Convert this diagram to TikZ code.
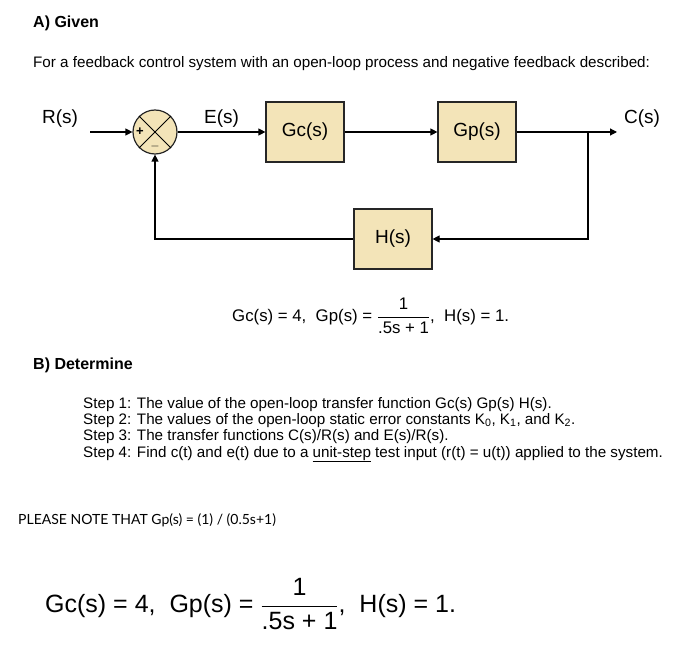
\documentclass[tikz,border=0pt]{standalone}
\usepackage{fontspec}
\setmainfont{Liberation Sans}
\newfontfamily\plain{Liberation Sans}
\newfontfamily\lato{Lato}
\usetikzlibrary{arrows.meta}
\definecolor{boxfill}{RGB}{243,228,184}
\newcommand{\frc}[2]{$\displaystyle\frac{\textrm{#1}}{\textrm{#2}}$}
\begin{document}
\begin{tikzpicture}[x=1pt,y=-1pt,
  blk/.style={draw=black!85,line width=1.2pt,fill=boxfill,minimum width=78pt,minimum height=60pt,font=\plain\fontsize{19}{19}\selectfont,inner sep=0},
  sig/.style={line width=1.2pt,-{Triangle[length=7pt,width=7pt]}},
  wire/.style={line width=1.2pt},
  lab/.style={font=\plain\fontsize{19}{19}\selectfont,inner sep=0},
  txt/.style={anchor=base west,inner sep=0,font=\fontsize{15.2}{15.2}\selectfont},
  ]
\useasboundingbox (0,0) rectangle (681,658);
\fill[white] (0,0) rectangle (681,658);
\node[txt,font=\fontsize{16}{16}\selectfont\bfseries] (ta) at (33,28) {A) Given};
\node[txt] (tb) at (33,68) {For a feedback control system with an open-loop process and negative feedback described:};
% diagram
\node[circle,draw=black!85,line width=1.2pt,fill=boxfill,minimum size=44pt,inner sep=0] (sum) at (155,132) {};
\draw[line width=1pt] (sum.north west) -- (sum.south east) (sum.north east) -- (sum.south west);
\node[font=\plain\fontsize{13}{13}\selectfont\bfseries,inner sep=0] (plus) at (140,132) {+};
\node[font=\plain\fontsize{13}{13}\selectfont\bfseries,inner sep=0] (minus) at (155,147) {$-$};
\node[blk] (gc) at (305,132) {Gc(s)};
\node[blk] (gp) at (477,132) {Gp(s)};
\node[blk] (h) at (393,239) {H(s)};
\node[lab,anchor=south west] (r) at (42,128) {R(s)};
\node[lab,anchor=south west] (e) at (204,128) {E(s)};
\node[lab,anchor=south west] (c) at (624,128) {C(s)};
\coordinate (rin) at (90,132);
\coordinate (branch) at (588,132);
\coordinate (cout) at (617,132);
\draw[sig] (rin) -- (sum.west);
\draw[sig] (sum.east) -- (gc.west);
\draw[sig] (gc.east) -- (gp.west);
\draw[wire] (gp.east) -- (branch);
\draw[sig] (branch) -- (cout);
\draw[sig] (branch) |- (h.east);
\draw[sig] (h.west) -| (sum.south);
% formula 1
\node[anchor=west,inner sep=0,font=\fontsize{16.8}{16.8}\selectfont] (f1) at (232,316)
 {Gc(s) = 4,\ \ Gp(s) = \frc{1}{.5s + 1}, \ H(s) = 1.};
\node[txt,font=\fontsize{16}{16}\selectfont\bfseries] (td) at (33,369) {B) Determine};
\node[txt,font=\fontsize{15.2}{16.3}\selectfont,align=left,anchor=north west] (steps) at (83,397) {Step 1: The value of the open-loop transfer function Gc(s) Gp(s) H(s).\\
Step 2: The values of the open-loop static error constants K\textsubscript{0}, K\textsubscript{1}, and K\textsubscript{2}.\\
Step 3: The transfer functions C(s)/R(s) and E(s)/R(s).\\
Step 4: Find c(t) and e(t) due to a \underline{unit-step} test input (r(t) = u(t)) applied to the system.};
\node[anchor=base west,inner sep=0,font=\lato\fontsize{14}{14}\selectfont] (note) at (18,524) {PLEASE NOTE THAT Gp(s) = (1) / (0.5s+1)};
\node[anchor=west,inner sep=0,font=\fontsize{25}{25}\selectfont] (f2) at (45,604)
 {Gc(s) = 4,\ \ Gp(s) = \frc{1}{.5s + 1}, \ H(s) = 1.};
\end{tikzpicture}
\end{document}
